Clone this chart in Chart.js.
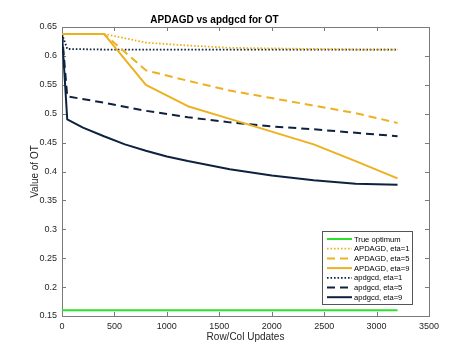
<!DOCTYPE html>
<html>
<head>
<meta charset="utf-8">
<script src="https://cdn.jsdelivr.net/npm/chart.js@4"></script>
<style>
html,body{margin:0;padding:0;background:#fff;}
canvas{display:block;}
</style>
</head>
<body>
<canvas id="c" width="474" height="355"></canvas>
<script>
// ---- data ----
const iterAPDAGD = [0, 400, 800, 1200, 1600, 2000, 2400, 2800, 3200];
const iterAPDGCD = [0, 50, 400, 800, 1200, 1600, 2000, 2400, 2800, 3200];
const iterAPDGCD9 = [0, 50, 200, 400, 600, 800, 1000, 1200, 1600, 2000, 2400, 2800, 3200];
const iterOpt = [0, 3200];
const trueOpt = [0.16, 0.16];
const apdagdEta1 = [0.638, 0.638, 0.623, 0.618, 0.614, 0.613, 0.612, 0.611, 0.611];
const apdagdEta5 = [0.638, 0.638, 0.575, 0.557, 0.540, 0.527, 0.514, 0.501, 0.484];
const apdagdEta9 = [0.638, 0.638, 0.550, 0.513, 0.491, 0.469, 0.447, 0.418, 0.388];
const apdgcdEta1 = [0.638, 0.612, 0.611, 0.611, 0.611, 0.611, 0.611, 0.611, 0.611, 0.611];
const apdgcdEta5 = [0.638, 0.530, 0.519, 0.505, 0.494, 0.485, 0.478, 0.473, 0.467, 0.461];
const apdgcdEta9 = [0.638, 0.490, 0.476, 0.461, 0.447, 0.436, 0.426, 0.418, 0.404, 0.393, 0.385, 0.379, 0.377];
const seriesLabels = ['True optimum', 'APDAGD, eta=1', 'APDAGD, eta=5', 'APDAGD, eta=9', 'apdgcd, eta=1', 'apdgcd, eta=5', 'apdgcd, eta=9'];
const xTicks = [0, 500, 1000, 1500, 2000, 2500, 3000, 3500];
const yTicks = [0.15, 0.2, 0.25, 0.3, 0.35, 0.4, 0.45, 0.5, 0.55, 0.6, 0.65];
const titleText = 'APDAGD vs apdgcd for OT';
const xTitle = 'Row/Col Updates';
const yTitle = 'Value of OT';

const pts = (xs, ys) => xs.map((x, i) => ({x: x, y: ys[i]}));

const GREEN = '#2ee02e', YEL = '#EDB120', NAVY = '#0e2240';
const DOT = [1.6, 1.9], DASH = [8, 5];
const FONT = '"Liberation Sans", Arial, Helvetica, sans-serif';
const AXC = '#7a7a7a', TXT = '#262626';

const mk = (label, xs, ys, color, dash, w) => ({
  label, data: pts(xs, ys), borderColor: color, backgroundColor: color,
  borderDash: dash, borderWidth: w, pointRadius: 0, tension: 0, fill: false,
  borderCapStyle: 'butt', borderJoinStyle: 'round'
});

const datasets = [
  mk(seriesLabels[0], iterOpt, trueOpt, GREEN, [], 2),
  mk(seriesLabels[1], iterAPDAGD, apdagdEta1, YEL, DOT, 1.8),
  mk(seriesLabels[2], iterAPDAGD, apdagdEta5, YEL, DASH, 2),
  mk(seriesLabels[3], iterAPDAGD, apdagdEta9, YEL, [], 2),
  mk(seriesLabels[4], iterAPDGCD, apdgcdEta1, NAVY, DOT, 1.8),
  mk(seriesLabels[5], iterAPDGCD, apdgcdEta5, NAVY, DASH, 2),
  mk(seriesLabels[6], iterAPDGCD9, apdgcdEta9, NAVY, [], 2)
];

const boxPlugin = {
  id: 'boxPlugin',
  beforeDatasetsDraw(chart) {
    const {ctx, chartArea: a, scales} = chart;
    ctx.save();
    ctx.strokeStyle = AXC;
    ctx.lineWidth = 1;
    ctx.strokeRect(Math.round(a.left) + 0.5, Math.round(a.top) + 0.5, Math.round(a.right - a.left), Math.round(a.bottom - a.top));
    const tl = 4;
    ctx.beginPath();
    scales.x.ticks.forEach(t => {
      const px = Math.round(scales.x.getPixelForValue(t.value)) + 0.5;
      ctx.moveTo(px, a.bottom); ctx.lineTo(px, a.bottom - tl);
      ctx.moveTo(px, a.top); ctx.lineTo(px, a.top + tl);
    });
    scales.y.ticks.forEach(t => {
      const py = Math.round(scales.y.getPixelForValue(t.value)) + 0.5;
      ctx.moveTo(a.left, py); ctx.lineTo(a.left + tl, py);
      ctx.moveTo(a.right, py); ctx.lineTo(a.right - tl, py);
    });
    ctx.stroke();
    ctx.restore();
  },
  afterDatasetsDraw(chart) {
    const {ctx} = chart;
    const bx = 322.5, by = 231.5, bw = 90, bh = 73;
    ctx.save();
    ctx.fillStyle = '#fff';
    ctx.fillRect(bx, by, bw, bh);
    ctx.strokeStyle = '#555';
    ctx.lineWidth = 1;
    ctx.strokeRect(bx, by, bw, bh);
    ctx.font = '7.6px ' + FONT;
    ctx.textBaseline = 'middle';
    ctx.textAlign = 'left';
    chart.data.datasets.forEach((ds, i) => {
      const y = 239 + i * 9.7;
      ctx.beginPath();
      ctx.strokeStyle = ds.borderColor;
      ctx.lineWidth = ds.borderWidth;
      ctx.setLineDash(ds.borderDash);
      ctx.moveTo(327, y); ctx.lineTo(352, y);
      ctx.stroke();
      ctx.setLineDash([]);
      ctx.fillStyle = '#000';
      ctx.fillText(ds.label, 354, y + 0.5);
    });
    ctx.restore();
  }
};

new Chart(document.getElementById('c'), {
  type: 'line',
  data: {datasets},
  plugins: [boxPlugin],
  options: {
    responsive: false,
    animation: false,
    events: [],
    layout: {padding: {left: 0, right: 45, top: 0, bottom: 0}},
    plugins: {
      legend: {display: false},
      tooltip: {enabled: false},
      title: {
        display: true, text: titleText, color: '#000',
        font: {family: FONT, size: 10, weight: 'bold', lineHeight: 1.2},
        padding: {top: 14, bottom: 1}
      }
    },
    scales: {
      x: {
        type: 'linear', min: 0, max: 3500,
        afterFit(s) { s.height = 39; },
        afterBuildTicks(s) { s.ticks = xTicks.map(v => ({value: v})); },
        grid: {display: false, drawTicks: false},
        border: {display: false},
        ticks: {color: TXT, font: {family: FONT, size: 9}, padding: 5, maxRotation: 0, autoSkip: false,
          callback: v => String(v)},
        title: {display: true, text: xTitle, color: TXT, font: {family: FONT, size: 10, lineHeight: 1.2}, padding: {top: 0, bottom: 12}}
      },
      y: {
        type: 'linear', min: 0.15, max: 0.65,
        afterFit(s) { s.width = 62; },
        afterBuildTicks(s) { s.ticks = yTicks.map(v => ({value: v})); },
        grid: {display: false, drawTicks: false},
        border: {display: false},
        ticks: {color: TXT, font: {family: FONT, size: 9}, padding: 5, autoSkip: false,
          callback: v => String(Number(v.toFixed(2)))},
        title: {display: true, text: yTitle, color: TXT, font: {family: FONT, size: 10, lineHeight: 1.2}, padding: {top: 29, bottom: 0}}
      }
    }
  }
});
</script>
</body>
</html>
